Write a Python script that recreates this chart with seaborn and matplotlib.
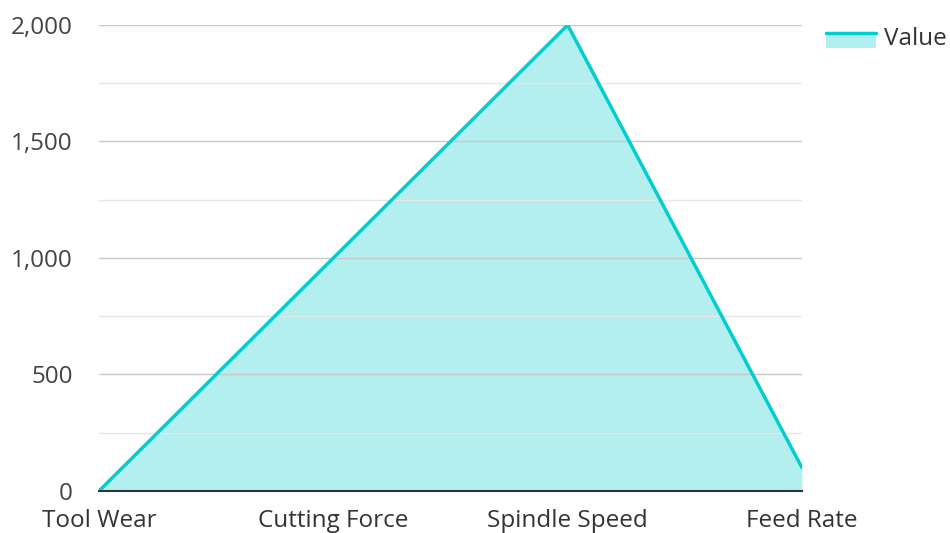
import matplotlib
matplotlib.use("Agg")
import matplotlib.pyplot as plt
import seaborn as sns
import pandas as pd
from matplotlib.patches import Rectangle
from matplotlib.lines import Line2D
from matplotlib.legend_handler import HandlerBase
from matplotlib.ticker import MultipleLocator, FuncFormatter

categories = ["Tool Wear", "Cutting Force", "Spindle Speed", "Feed Rate"]
values = [0, 1000, 2000, 100]
series_name = "Value"

df = pd.DataFrame({"category": categories, "value": values})
df["pos"] = range(len(categories))

sns.set_theme(style="white")
plt.rcParams["font.family"] = ["Open Sans", "Noto Sans", "DejaVu Sans"]

line_color = "#00CED1"
fill_color = "#B2EFEE"
font_size = 17.5


class AreaHandler(HandlerBase):
    """Legend key: filled block with the series line along its top edge."""

    def create_artists(self, legend, orig_handle, xdescent, ydescent,
                       width, height, fontsize, trans):
        x0, y0 = -xdescent, -ydescent - 3
        rect = Rectangle((x0, y0), width, height, facecolor=fill_color,
                         edgecolor="none", transform=trans)
        top = Line2D([x0, x0 + width], [y0 + height, y0 + height],
                     color=line_color, linewidth=2.5, transform=trans)
        return [rect, top]


fig = plt.figure(figsize=(9.5, 5.33), dpi=100)
ax = fig.add_axes([0.1042, 0.0788, 0.7400, 0.8743])

ax.fill_between(df["pos"], df["value"], 0, color=fill_color, linewidth=0, zorder=1)
sns.lineplot(data=df, x="pos", y="value", ax=ax, color=line_color, linewidth=2.5,
             zorder=3, legend=False)

ax.set_xlim(0, len(categories) - 1)
ax.set_ylim(0, 2000)
ax.set_xticks(df["pos"])
ax.set_xticklabels(categories)
ax.yaxis.set_major_locator(MultipleLocator(500))
ax.yaxis.set_minor_locator(MultipleLocator(250))
ax.yaxis.set_major_formatter(FuncFormatter(lambda v, _: f"{int(v):,}"))
ax.set_xlabel("")
ax.set_ylabel("")

ax.grid(axis="y", which="major", color="#C8C8C8", linewidth=1, zorder=2)
ax.grid(axis="y", which="minor", color="#E6E6E6", linewidth=1, zorder=2)
ax.set_axisbelow(False)
for s in ["top", "right", "left"]:
    ax.spines[s].set_visible(False)
ax.spines["bottom"].set_color("#333333")
ax.spines["bottom"].set_linewidth(1.5)
ax.spines["bottom"].set_zorder(4)

ax.tick_params(axis="both", which="both", length=0, labelsize=font_size, colors="#444444")
ax.tick_params(axis="x", pad=13)
ax.tick_params(axis="y", pad=19)
for lab in ax.get_xticklabels():
    lab.set_color("#333333")

leg = fig.legend([object()], [series_name], loc="upper left",
                 bbox_to_anchor=(826 / 950, 1 - 27 / 533), frameon=False,
                 handler_map={object: AreaHandler()},
                 borderpad=0, borderaxespad=0,
                 handlelength=2.05, handleheight=0.6, handletextpad=0.35,
                 fontsize=font_size)
for t in leg.get_texts():
    t.set_color("#333333")

fig.savefig("out.png", dpi=100)
